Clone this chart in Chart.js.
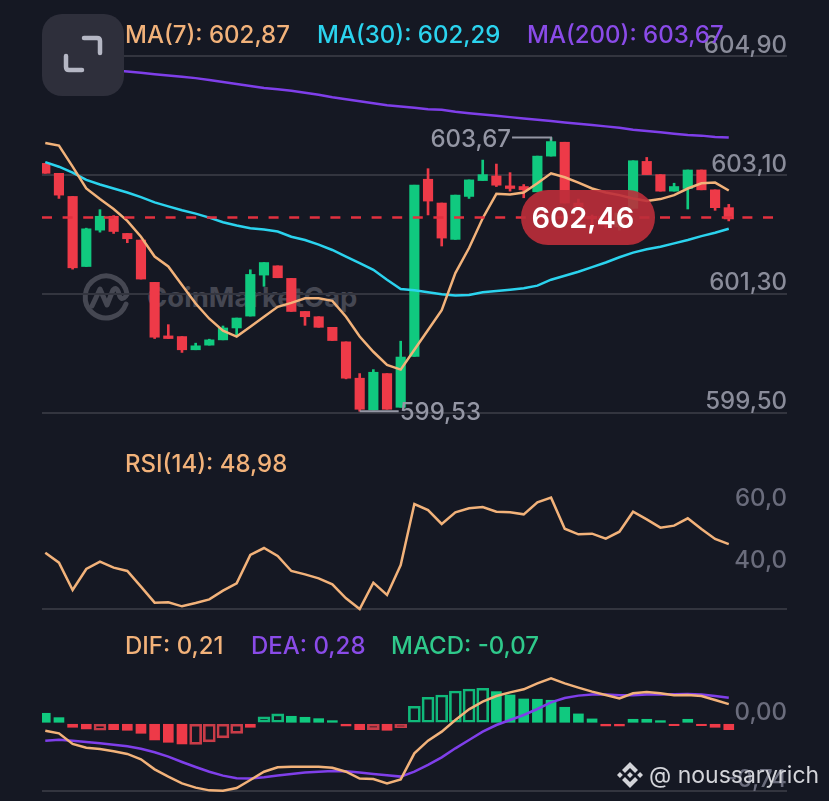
<!DOCTYPE html>
<html>
<head>
<meta charset="utf-8">
<script src="https://cdn.jsdelivr.net/npm/chart.js@4"></script>
<style>
  html, body { margin: 0; background: #151823; }
  #page { position: relative; width: 829px; height: 801px; overflow: hidden; font-family: Inter, sans-serif; }
  #page canvas { position: absolute; left: 42px; }
  .txt { position: absolute; font-size: 24px; font-weight: 500; line-height: 28px; white-space: nowrap; }
  #badge { position: absolute; left: 521px; top: 190px; width: 124px; padding-right: 10px; height: 55px; border-radius: 27px;
    background: rgba(188, 46, 58, 0.9); color: #fff; font-size: 29px; font-weight: 600; line-height: 55px; text-align: center; }
  #btn { position: absolute; left: 42px; top: 14px; width: 82px; height: 82px; border-radius: 20px; background: #2e2f3b; }
  #cmc { position: absolute; left: 147px; top: 277px; font-size: 27.5px; font-weight: 700; color: #454752; line-height: 40px; }
  #nick { position: absolute; left: 649px; top: 759px; font-size: 23px; color: #d3d4d9; line-height: 32px; white-space: nowrap; }
</style>
</head>
<body>
<div id="page">
  <svg style="position:absolute;left:80px;top:270px" width="54" height="54" viewBox="0 0 54 54" fill="none" stroke="#454752" stroke-width="5" stroke-linecap="round" stroke-linejoin="round">
    <path d="M46 34 A21 21 0 1 1 47 24"/>
    <path d="M12 36 L20 19 L27 35 L33 20 Q37 16 39 24 Q41 32 46 26"/>
  </svg>
  <div id="cmc">CoinMarketCap</div>

  <canvas id="priceChart" width="745" height="440" style="top:0"></canvas>
  <canvas id="rsiChart" width="745" height="180" style="top:440px"></canvas>
  <canvas id="macdChart" width="745" height="181" style="top:620px"></canvas>

  <div id="badge">602,46</div>
  <div id="btn">
    <svg width="82" height="82" viewBox="0 0 82 82" fill="none" stroke="#b5b7c4" stroke-width="4.5" stroke-linecap="round" stroke-linejoin="round">
      <path d="M42 24 H55 Q58 24 58 27 V39"/>
      <path d="M24 42 V53 Q24 56 27 56 H40"/>
    </svg>
  </div>

  <div class="txt" style="left:125px;top:21px;color:#f2b27a">MA(7): 602,87</div>
  <div class="txt" style="left:317px;top:21px;color:#2bd3ee">MA(30): 602,29</div>
  <div class="txt" style="left:527px;top:21px;color:#8a4be8">MA(200): 603,67</div>
  <div class="txt" style="left:125px;top:450px;color:#f2b27a">RSI(14): 48,98</div>
  <div class="txt" style="left:125px;top:632px;color:#f2b27a">DIF: 0,21</div>
  <div class="txt" style="left:251px;top:632px;color:#8a4be8">DEA: 0,28</div>
  <div class="txt" style="left:391px;top:632px;color:#2fc98b">MACD: -0,07</div>

  <svg style="position:absolute;left:617px;top:762px" width="26" height="26" viewBox="0 0 126.61 126.61" fill="#d3d4d9">
    <path d="M38.73 53.2l24.59-24.58 24.6 24.6 14.3-14.31L63.32 0 24.42 38.9zM0 63.31l14.3-14.31 14.31 14.31-14.31 14.3zM38.73 73.41l24.59 24.59 24.6-24.6 14.31 14.29-38.9 38.91-38.91-38.88zM98 63.31l14.3-14.31 14.31 14.3-14.31 14.32zM77.83 63.3l-14.51-14.52-10.73 10.73-1.24 1.23-2.54 2.54 14.51 14.5 14.51-14.52z"/>
  </svg>
  <div id="nick">@ noussaryrich</div>
</div>

<script>
// candles, oldest first
const opens = [603.28,603.13,602.78,601.72,602.27,602.48,602.22,602.12,601.48,600.67,
  600.66,600.46,600.53,600.61,600.79,600.97,601.59,601.73,601.54,601.04,
  600.96,600.80,600.58,600.03,599.55,600.10,599.59,600.36,603.04,602.68,
  602.13,602.78,603.02,603.09,602.94,602.93,602.85,603.39,603.60,602.68,
  602.48,602.38,602.32,602.60,603.31,603.11,602.86,602.90,603.18,602.88,602.61];
const closes = [603.13,602.80,601.70,602.29,602.48,602.25,602.14,601.53,600.65,600.63,
  600.46,600.52,600.61,600.79,600.94,601.60,601.78,601.55,601.04,600.96,
  600.80,600.60,600.03,599.56,600.12,599.56,600.35,602.95,602.71,602.15,
  602.80,603.03,603.11,602.95,602.90,602.88,603.39,603.61,602.68,602.62,
  602.44,602.35,602.53,603.32,603.11,602.86,602.93,603.18,602.88,602.61,602.44];
const highs = [603.28,603.13,602.78,602.30,602.58,602.49,602.22,602.12,601.48,600.84,
  600.66,600.56,600.62,600.82,600.94,601.67,601.78,601.73,601.54,601.04,
  600.96,600.80,600.58,600.10,600.16,600.10,600.59,602.95,603.20,602.68,
  602.80,603.03,603.33,603.27,603.14,602.96,603.39,603.67,603.60,602.74,
  602.50,602.45,602.58,603.32,603.37,603.11,602.98,603.18,603.18,602.88,602.66];
const lows = [603.13,602.75,601.68,601.72,602.24,602.22,602.08,601.53,600.63,600.63,
  600.42,600.46,600.53,600.61,600.67,600.97,601.42,601.55,601.04,600.83,
  600.80,600.60,600.02,599.53,599.55,599.56,599.59,600.36,602.50,602.03,
  602.13,602.75,603.02,602.93,602.86,602.76,602.85,603.39,602.68,602.62,
  602.25,602.30,602.27,602.60,603.11,602.86,602.86,602.59,602.88,602.57,602.41];

const ma7 = [603.59,603.55,603.23,602.90,602.74,602.59,602.41,602.17,601.87,601.72,
  601.44,601.16,600.93,600.75,600.66,600.81,600.96,601.11,601.17,601.24,
  601.24,601.20,600.96,600.66,600.43,600.23,600.16,600.46,600.76,601.06,
  601.62,602.00,602.45,602.82,602.81,602.84,602.98,603.13,603.07,602.99,
  602.90,602.84,602.80,602.75,602.71,602.74,602.80,602.90,602.98,602.99,602.87];
const ma30 = [603.30,603.23,603.14,603.03,602.96,602.90,602.84,602.77,602.69,602.63,
  602.57,602.52,602.46,602.39,602.34,602.30,602.28,602.25,602.17,602.12,
  602.05,601.97,601.87,601.77,601.67,601.52,601.38,601.36,601.33,601.30,
  601.28,601.29,601.33,601.35,601.37,601.39,601.43,601.52,601.58,601.64,
  601.71,601.78,601.86,601.93,601.98,602.02,602.07,602.12,602.18,602.23,602.29];
const ma200 = [604.72,604.72,604.71,604.70,604.69,604.69,604.67,604.65,604.63,604.61,
  604.59,604.57,604.54,604.51,604.48,604.45,604.42,604.40,604.38,604.35,
  604.32,604.28,604.25,604.22,604.19,604.16,604.14,604.12,604.10,604.09,
  604.06,604.04,604.02,604.00,603.98,603.96,603.94,603.92,603.90,603.88,
  603.86,603.84,603.82,603.79,603.77,603.75,603.73,603.71,603.70,603.68,603.67];

const rsi = [46.24,43.01,34.20,40.97,43.34,41.40,40.33,35.27,30.11,30.22,
  28.93,30.00,31.18,33.98,36.35,45.49,47.74,45.16,40.33,39.25,
  37.96,36.02,31.51,28.07,36.56,32.58,42.26,61.94,60.00,55.49,
  59.25,60.54,60.97,59.46,59.25,58.60,62.48,63.98,53.98,52.15,
  52.37,50.76,53.01,59.46,56.99,54.30,54.95,57.31,53.87,50.65,48.98];

const dif = [-0.081,-0.110,-0.227,-0.268,-0.282,-0.308,-0.337,-0.396,-0.506,-0.587,
  -0.660,-0.707,-0.737,-0.740,-0.711,-0.623,-0.532,-0.484,-0.477,-0.477,
  -0.477,-0.488,-0.532,-0.608,-0.612,-0.660,-0.616,-0.330,-0.191,-0.092,
  0.036,0.153,0.238,0.300,0.340,0.373,0.439,0.494,0.439,0.392,
  0.348,0.311,0.274,0.329,0.344,0.329,0.307,0.311,0.300,0.256,0.21];
const dea = [-0.191,-0.180,-0.191,-0.205,-0.220,-0.235,-0.253,-0.279,-0.319,-0.367,
  -0.425,-0.480,-0.532,-0.575,-0.605,-0.608,-0.594,-0.575,-0.557,-0.542,
  -0.532,-0.524,-0.528,-0.542,-0.557,-0.572,-0.586,-0.532,-0.458,-0.374,
  -0.275,-0.184,-0.092,-0.019,0.036,0.091,0.157,0.230,0.278,0.304,
  0.315,0.315,0.307,0.307,0.315,0.315,0.318,0.322,0.315,0.300,0.28];
const macd = [0.110,0.062,-0.044,-0.062,-0.077,-0.070,-0.077,-0.110,-0.183,-0.209,
  -0.227,-0.231,-0.205,-0.161,-0.110,-0.044,0.070,0.103,0.077,0.066,
  0.051,0.029,-0.029,-0.070,-0.070,-0.077,-0.048,0.187,0.286,0.311,
  0.355,0.377,0.385,0.348,0.311,0.267,0.264,0.253,0.176,0.103,
  0.048,-0.029,-0.029,0.044,0.044,0.029,-0.026,0.044,-0.026,-0.044,-0.07];
// bars drawn as outlines in the MACD histogram
const macdHollow = [4,11,12,13,14,16,17,24,26,27,28,29,30,31,32];

const lastPrice = 602.46;
const highIndex = 37;
const lowIndex = 23;
const priceTicks = [604.9, 603.1, 601.3, 599.5];
const rsiTicks = [60, 40, 27.97];
const macdTicks = [0, -0.74];

const RED = "#ee3a48";
const GREEN = "#10c97f";
const ORANGE = "#f2b27a";
const CYAN = "#2bd3ee";
const PURPLE = "#7f3fea";
const GRID = "#33353f";
const X_MIN = -0.24, X_MAX = 54.26;

const series = arr => arr.map((y, x) => ({x, y}));

function line(data, color, width, order) {
  return {type: "line", data: series(data), borderColor: color, borderWidth: width,
    pointRadius: 0, tension: 0, order};
}

function options(yMin, yMax, ticks, format, labelColor, gridFor) {
  return {
    responsive: false,
    animation: false,
    devicePixelRatio: 1,
    layout: {padding: 0},
    plugins: {legend: {display: false}, tooltip: {enabled: false}},
    scales: {
      x: {type: "linear", min: X_MIN, max: X_MAX, offset: false, display: false},
      y: {
        position: "right",
        min: yMin,
        max: yMax,
        afterBuildTicks: axis => { axis.ticks = ticks.map(value => ({value})); },
        // labels sit inside the plot, so no room is kept for them
        afterFit: axis => { axis.paddingTop = 0; axis.paddingBottom = 0; },
        border: {display: false},
        grid: {drawTicks: false, lineWidth: 2, color: c => gridFor(c.tick.value) ? GRID : "transparent"},
        ticks: {
          mirror: true,
          padding: 0,
          autoSkip: false,
          labelOffset: -11,
          color: labelColor,
          font: {family: "Inter", size: 24, weight: "500"},
          callback: format
        }
      }
    }
  };
}

// 603,67 / 599,53 labels next to the extreme candles
const extremes = {
  id: "extremes",
  afterDatasetsDraw(chart) {
    const {ctx, scales} = chart;
    const hx = scales.x.getPixelForValue(highIndex), hy = scales.y.getPixelForValue(highs[highIndex]);
    const lx = scales.x.getPixelForValue(lowIndex), ly = scales.y.getPixelForValue(lows[lowIndex]);
    ctx.save();
    ctx.strokeStyle = "#9496a4";
    ctx.fillStyle = "#9496a4";
    ctx.lineWidth = 2;
    ctx.font = "500 24px Inter";
    ctx.textBaseline = "middle";
    ctx.beginPath();
    ctx.moveTo(hx - 39, hy);
    ctx.lineTo(hx, hy);
    ctx.lineTo(hx, hy + 3);
    ctx.moveTo(lx, ly);
    ctx.lineTo(lx + 39, ly);
    ctx.stroke();
    ctx.textAlign = "right";
    ctx.fillText(highs[highIndex].toFixed(2).replace(".", ","), hx - 40, hy + 2);
    ctx.textAlign = "left";
    ctx.fillText(lows[lowIndex].toFixed(2).replace(".", ","), lx + 40, ly + 2);
    ctx.restore();
  }
};

const comma = digits => v => v.toFixed(digits).replace(".", ",");

new Chart(document.getElementById("priceChart"), {
  data: {
    datasets: [
      {type: "bar", grouped: false, order: 6, barThickness: 2,
        data: highs.map((h, x) => ({x, y: [lows[x], h]})),
        backgroundColor: closes.map((c, i) => c >= opens[i] ? GREEN : RED)},
      {type: "bar", grouped: false, order: 5, barThickness: 9.5,
        data: opens.map((o, x) => ({x, y: [o, closes[x]]})),
        backgroundColor: closes.map((c, i) => c >= opens[i] ? GREEN : RED)},
      line(ma200, PURPLE, 2.5, 4),
      line(ma30, CYAN, 2.5, 3),
      line(ma7, ORANGE, 2.5, 2),
      {type: "line", data: [{x: X_MIN, y: lastPrice}, {x: 53.6, y: lastPrice}], borderColor: "#e2303f",
        borderWidth: 2.5, borderDash: [10, 10.6], pointRadius: 0, order: 1}
    ]
  },
  options: options(599.095, 605.752, priceTicks, comma(2), "#8a8c9a", () => true),
  plugins: [extremes]
});

new Chart(document.getElementById("rsiChart"), {
  data: {datasets: [line(rsi, ORANGE, 2.5, 1)]},
  options: options(24.52, 82.58, rsiTicks, v => v === rsiTicks[2] ? "" : comma(1)(v), "#6a6c7c", v => v === rsiTicks[2])
});

const isHollow = i => macdHollow.includes(i);
new Chart(document.getElementById("macdChart"), {
  data: {
    datasets: [
      {type: "bar", grouped: false, order: 4, barThickness: 10,
        data: series(macd).filter(p => !isHollow(p.x)),
        backgroundColor: macd.filter((v, i) => !isHollow(i)).map(v => v >= 0 ? GREEN : RED)},
      {type: "bar", grouped: false, order: 3, barThickness: 12,
        data: series(macd).filter(p => isHollow(p.x)),
        backgroundColor: "transparent", borderWidth: 2, borderSkipped: false,
        borderColor: macd.filter((v, i) => isHollow(i)).map(v => v >= 0 ? "#10b97a" : "#c93c48")},
      line(dea, PURPLE, 2.5, 2),
      line(dif, ORANGE, 2.5, 1)
    ]
  },
  options: options(-0.854, 1.135, macdTicks, comma(2), "#6a6c7c", v => v === macdTicks[1])
});
</script>
</body>
</html>
